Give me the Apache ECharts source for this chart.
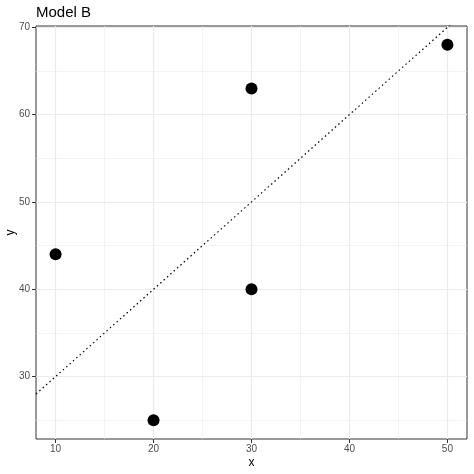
<!DOCTYPE html>
<html>
<head>
<meta charset="utf-8">
<script src="https://cdn.jsdelivr.net/npm/echarts@6/dist/echarts.min.js"></script>
<style>
  html, body { margin: 0; padding: 0; background: #fff; }
  #chart { width: 474px; height: 474px; }
</style>
</head>
<body>
<div id="chart"></div>
<script>
// data
const xs = [10, 20, 30, 30, 50]
const ys = [44, 25, 63, 40, 68]
// dotted reference line y = intercept + slope * x
const ablineIntercept = 20
const ablineSlope = 1
// axis ticks and grid
const xTicks = [10, 20, 30, 40, 50]
const xMinor = [15, 25, 35, 45]
const yTicks = [30, 40, 50, 60, 70]
const yMinor = [25, 35, 45, 55, 65]
const xLimits = [8, 52]
const yLimits = [22.85, 70.15]

const chart = echarts.init(document.getElementById('chart'))

const points = xs.map((x, i) => [x, ys[i]])
const lineData = xLimits.map(x => [x, ablineIntercept + ablineSlope * x])

const gridLine = (axis, v, w) => ({
  [axis]: v,
  lineStyle: {color: '#ebebeb', width: w, type: 'solid'},
  label: {show: false},
  symbol: 'none'
})

const font = 'Liberation Sans, Arial, sans-serif'

chart.setOption({
  animation: false,
  title: {
    text: 'Model B',
    left: 36,
    top: 5,
    padding: 0,
    textStyle: {fontFamily: font, fontSize: 15, fontWeight: 'normal', color: '#000'}
  },
  grid: {
    left: 36, right: 7, top: 26, bottom: 35,
    containLabel: false,
    outerBoundsMode: 'none',
    show: true, borderColor: '#333', borderWidth: 1, backgroundColor: 'transparent'
  },
  xAxis: {
    type: 'value',
    min: xLimits[0], max: xLimits[1],
    name: 'x', nameLocation: 'middle', nameGap: 18, nameMoveOverlap: false,
    nameTextStyle: {fontFamily: font, fontSize: 12, color: '#000'},
    axisLine: {show: false},
    splitLine: {show: false},
    axisTick: {show: true, length: 4, lineStyle: {color: '#333'}, customValues: xTicks},
    axisLabel: {fontFamily: font, fontSize: 10, color: '#4d4d4d', margin: 5, customValues: xTicks}
  },
  yAxis: {
    type: 'value',
    min: yLimits[0], max: yLimits[1],
    name: 'y', nameLocation: 'middle', nameGap: 19, nameMoveOverlap: false,
    nameTextStyle: {fontFamily: font, fontSize: 12, color: '#000'},
    axisLine: {show: false},
    splitLine: {show: false},
    axisTick: {show: true, length: 4, lineStyle: {color: '#333'}, customValues: yTicks},
    axisLabel: {fontFamily: font, fontSize: 10, color: '#4d4d4d', margin: 6, customValues: yTicks}
  },
  series: [
    {
      type: 'line',
      data: [],
      silent: true,
      z: 0,
      markLine: {
        silent: true,
        symbol: 'none',
        animation: false,
        z: 0,
        data: [
          ...xMinor.map(v => gridLine('xAxis', v, 0.6)),
          ...yMinor.map(v => gridLine('yAxis', v, 0.6)),
          ...xTicks.map(v => gridLine('xAxis', v, 1.2)),
          ...yTicks.map(v => gridLine('yAxis', v, 1.2))
        ]
      }
    },
    {
      type: 'line',
      data: lineData,
      symbol: 'none',
      clip: true,
      z: 3,
      lineStyle: {color: '#000', width: 1.2, type: [1.5, 3]}
    },
    {
      type: 'scatter',
      data: points,
      symbolSize: 12,
      z: 5,
      itemStyle: {color: '#000', opacity: 1}
    }
  ]
})
</script>
</body>
</html>
